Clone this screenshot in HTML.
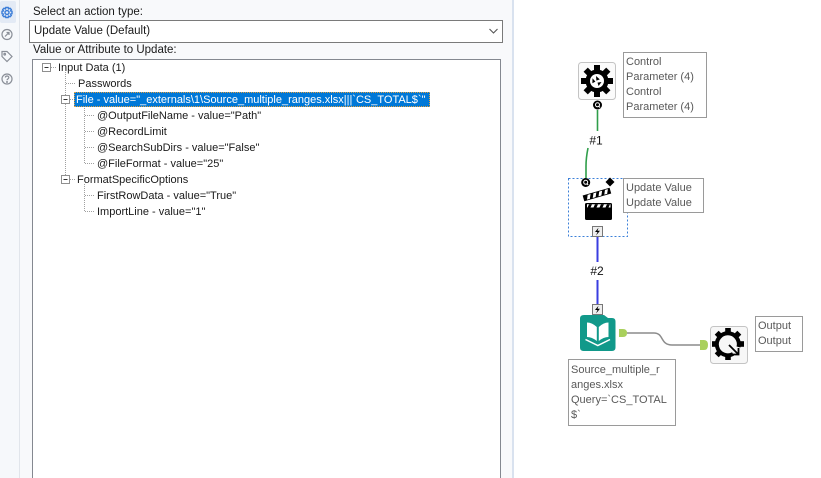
<!DOCTYPE html>
<html>
<head>
<meta charset="utf-8">
<style>
  html,body{margin:0;padding:0;width:821px;height:478px;overflow:hidden;}
  body{position:relative;background:#ffffff;font-family:"Liberation Sans",Arial,sans-serif;}
  .abs{position:absolute;}
  .strip{left:0;top:0;width:19px;height:478px;background:#f6f8fb;border-right:1px solid #e1e5eb;}
  .panel{left:20px;top:0;width:492px;height:478px;background:#f8f9fb;}
  .edge{left:512px;top:0;width:2px;height:478px;background:#d9e2ef;}
  .t{position:absolute;white-space:nowrap;font-size:11px;color:#1a1a1a;line-height:16px;}
  .dd{left:29px;top:20px;width:472px;height:21px;border:1px solid #7a7a7a;background:#fff;}
  .tree{left:32px;top:59px;width:467px;height:425px;border:1px solid #848890;border-bottom:none;background:#fff;}
  .lbl{position:absolute;background:#fff;border:1px solid #9a9a9a;font-size:11px;line-height:15px;color:#595959;padding:2px 2px 0 2px;box-sizing:border-box;white-space:nowrap;}
</style>
</head>
<body>
<div class="abs strip"></div>
<div class="abs panel"></div>
<div class="abs edge"></div>

<!-- left strip icons -->
<svg class="abs" style="left:0;top:0" width="19" height="100" viewBox="0 0 19 100">
  <rect x="0" y="1" width="16" height="22" rx="2" fill="#e3eaf5"/>
  <g transform="translate(7,12.5)" fill="none" stroke="#3b7dd8" stroke-width="1.4">
    <circle r="2"/>
    <path d="M-1.2,-5 L1.2,-5 L1.6,-3.6 L3,-4.3 L4.3,-3 L3.6,-1.6 L5,-1.2 L5,1.2 L3.6,1.6 L4.3,3 L3,4.3 L1.6,3.6 L1.2,5 L-1.2,5 L-1.6,3.6 L-3,4.3 L-4.3,3 L-3.6,1.6 L-5,1.2 L-5,-1.2 L-3.6,-1.6 L-4.3,-3 L-3,-4.3 L-1.6,-3.6 Z"/>
  </g>
  <g transform="translate(7,34.5)" fill="none" stroke="#8a8f98" stroke-width="1.2">
    <circle r="5"/>
    <path d="M-2,2 L2,-2 M-0.5,-2 L2,-2 L2,0.5"/>
  </g>
  <g transform="translate(7,56.5)" fill="none" stroke="#8a8f98" stroke-width="1.2">
    <path d="M-5,-5 L0,-5 L5,0 L0,5 L-5,0 Z"/>
    <circle cx="-2.3" cy="-2.3" r="0.8"/>
  </g>
  <g transform="translate(7,79)" fill="none" stroke="#8a8f98" stroke-width="1.2">
    <circle r="5"/>
    <path d="M-1.6,-1.5 C-1.6,-3.5 1.8,-3.5 1.8,-1.5 C1.8,0 0,0 0,1.3"/>
    <circle cx="0" cy="3" r="0.4" fill="#8a8f98"/>
  </g>
</svg>

<div class="t" style="left:33px;top:4px;font-size:11.5px;">Select an action type:</div>
<div class="abs dd"></div>
<div class="t" style="left:34px;top:23px;font-size:11.5px;">Update Value (Default)</div>
<svg class="abs" style="left:488px;top:27px" width="12" height="8"><path d="M1.5,2 L5.5,6 L9.5,2" fill="none" stroke="#555" stroke-width="1.1"/></svg>
<div class="t" style="left:33px;top:42px;font-size:11.5px;">Value or Attribute to Update:</div>

<div class="abs tree"></div>

<!-- tree lines -->
<svg class="abs" style="left:0;top:0" width="500" height="230">
  <g stroke="#a0a0a0" stroke-width="1" stroke-dasharray="1,1" fill="none">
    <path d="M51,67.5 L57,67.5"/>
    <path d="M65.5,72 L65.5,175"/>
    <path d="M66,83.5 L76,83.5"/>
    <path d="M70,99.5 L74,99.5"/>
    <path d="M70,179.5 L76,179.5"/>
    <path d="M84.5,104 L84.5,163.5"/>
    <path d="M85,115.5 L95,115.5 M85,131.5 L95,131.5 M85,147.5 L95,147.5 M85,163.5 L95,163.5"/>
    <path d="M84.5,184 L84.5,211.5"/>
    <path d="M85,195.5 L95,195.5 M85,211.5 L95,211.5"/>
  </g>
  <g fill="#fff" stroke="#8f8f8f">
    <rect x="42.5" y="63.5" width="8" height="8"/>
    <rect x="61.5" y="95.5" width="8" height="8"/>
    <rect x="61.5" y="175.5" width="8" height="8"/>
  </g>
  <g stroke="#333" stroke-width="1">
    <path d="M44.5,67.5 L48.5,67.5 M63.5,99.5 L67.5,99.5 M63.5,179.5 L67.5,179.5"/>
  </g>
</svg>

<div class="t" style="left:58px;top:59.5px;">Input Data (1)</div>
<div class="t" style="left:78px;top:75.5px;">Passwords</div>
<div class="abs" style="left:74px;top:92px;width:356px;height:15px;background:#0078d7;outline:1px dotted #e0a040;outline-offset:-1px;"></div>
<div class="t" style="left:76px;top:91.5px;color:#fff;">File - value="_externals\1\Source_multiple_ranges.xlsx|||`CS_TOTAL$`"</div>
<div class="t" style="left:97px;top:107.5px;">@OutputFileName - value="Path"</div>
<div class="t" style="left:97px;top:123.5px;">@RecordLimit</div>
<div class="t" style="left:97px;top:139.5px;">@SearchSubDirs - value="False"</div>
<div class="t" style="left:97px;top:155.5px;">@FileFormat - value="25"</div>
<div class="t" style="left:77px;top:171.5px;">FormatSpecificOptions</div>
<div class="t" style="left:97px;top:187.5px;">FirstRowData - value="True"</div>
<div class="t" style="left:97px;top:203.5px;">ImportLine - value="1"</div>

<!-- canvas -->
<svg class="abs" style="left:0;top:0" width="821" height="478" viewBox="0 0 821 478">
  <path d="M597.5,110 L597.5,131" stroke="#2f9e4a" stroke-width="1.6" fill="none"/>
  <path d="M588,148 Q586,158 586,166 L586,178" stroke="#2f9e4a" stroke-width="1.6" fill="none"/>
  <text x="596" y="144.5" font-family="Liberation Sans, Arial, sans-serif" font-size="12" text-anchor="middle" fill="#111">#1</text>

  <path d="M597.5,237 L597.5,262" stroke="#3a3ee0" stroke-width="2" fill="none"/>
  <path d="M597.5,280 L597.5,304" stroke="#3a3ee0" stroke-width="2" fill="none"/>
  <text x="597" y="275" font-family="Liberation Sans, Arial, sans-serif" font-size="12" text-anchor="middle" fill="#111">#2</text>

  <path d="M627,333 L654,333 C664,333 660,345 672,345 L700,345" stroke="#8c8c8c" stroke-width="1.5" fill="none"/>

  <!-- control parameter tool -->
  <rect x="578.5" y="62.5" width="37" height="37" rx="3" fill="#fbfbfb" stroke="#c4c4c4"/>
  <g transform="translate(597,81)">
    <g fill="#000">
      <circle r="11.5"/>
      <rect x="-3" y="-16" width="6" height="7"/>
      <rect x="-3" y="-16" width="6" height="7" transform="rotate(45)"/>
      <rect x="-3" y="-16" width="6" height="7" transform="rotate(90)"/>
      <rect x="-3" y="-16" width="6" height="7" transform="rotate(135)"/>
      <rect x="-3" y="-16" width="6" height="7" transform="rotate(180)"/>
      <rect x="-3" y="-16" width="6" height="7" transform="rotate(225)"/>
      <rect x="-3" y="-16" width="6" height="7" transform="rotate(270)"/>
      <rect x="-3" y="-16" width="6" height="7" transform="rotate(315)"/>
    </g>
    <circle r="7" fill="#fff"/>
    <path d="M-1,-5 L2.8,-1.6 L-0.6,-0.4 Z M4.5,1 L1.6,5 L0.5,1.6 Z M-4.6,2.2 L-4.5,-2.8 L-1.6,0.6 Z" fill="#000"/>
  </g>
  <circle cx="597.5" cy="105" r="4.5" fill="#000"/>
  <circle cx="597.5" cy="104.8" r="2" fill="none" stroke="#fff" stroke-width="1"/>
  <path d="M598.5,106 L600,107.5" stroke="#fff" stroke-width="1"/>

  <!-- update value tool -->
  <rect x="568.5" y="178.5" width="59" height="58" fill="none" stroke="#3c80d8" stroke-dasharray="2,2"/>
  <circle cx="585.7" cy="182.5" r="4.5" fill="#000"/>
  <circle cx="585.7" cy="182.3" r="2" fill="none" stroke="#fff" stroke-width="1"/>
  <path d="M586.7,183.5 L588.2,185" stroke="#fff" stroke-width="1"/>
  <path d="M610,177.5 L614.5,182 L610,186.5 L605.5,182 Z" fill="#000"/>
  <g transform="rotate(-16 585 200)">
    <rect x="584" y="195" width="28" height="6" fill="#000"/>
    <path d="M589,195.8 L592,195.8 L590,200.2 L587,200.2 Z M595,195.8 L598,195.8 L596,200.2 L593,200.2 Z M601,195.8 L604,195.8 L602,200.2 L599,200.2 Z M607,195.8 L610,195.8 L608,200.2 L605,200.2 Z" fill="#fff"/>
  </g>
  <rect x="585" y="203" width="27" height="17" rx="1.5" fill="#000"/>
  <path d="M587,204.3 L610.5,204.3 L610.5,207.5 L587,207.5 Z" fill="#fff"/>
  <path d="M589,204.3 L592,204.3 L590.5,207.5 L587.5,207.5 Z M595,204.3 L598,204.3 L596.5,207.5 L593.5,207.5 Z M601,204.3 L604,204.3 L602.5,207.5 L599.5,207.5 Z M607,204.3 L610,204.3 L608.5,207.5 L605.5,207.5 Z" fill="#000"/>
  <rect x="592.5" y="226.5" width="10" height="10" fill="#eee" stroke="#777"/>
  <path d="M598.5,227.8 L595,232 L597.5,232 L596,235.5 L600,230.8 L597.5,230.8 Z" fill="#000"/>

  <!-- input tool -->
  <rect x="592.5" y="304.5" width="10" height="10" fill="#eee" stroke="#777"/>
  <path d="M598.5,305.8 L595,310 L597.5,310 L596,313.5 L600,308.8 L597.5,308.8 Z" fill="#000"/>
  <path d="M584,315 L604,315 L608,318 L612,318 Q615.5,318 615.5,321.5 L615.5,347.5 Q615.5,351 612,351 L583.5,351 Q580,351 580,347.5 L580,318.5 Q580,315 584,315 Z" fill="#11998a"/>
  <path d="M587,322.5 Q592,322.5 596.8,327 L596.8,341 Q592,337 587,337 Z" fill="#fff"/>
  <path d="M608.5,322.5 Q603.5,322.5 598.8,327 L598.8,341 Q603.5,337 608.5,337 Z" fill="#fff"/>
  <path d="M585.5,339.5 L597.8,345.5 L610,339.5" fill="none" stroke="#fff" stroke-width="1.5"/>
  <path d="M619,329 L623,329 Q627,329 627,333 Q627,337 623,337 L619,337 Z" fill="#a9d05c"/>

  <!-- output tool -->
  <path d="M700,340 L704,340 Q708,340 708,345 Q708,350 704,350 L700,350 Z" fill="#a9d05c"/>
  <rect x="710.5" y="326.5" width="37" height="37" rx="3" fill="#f7f7f7" stroke="#c4c4c4"/>
  <g transform="translate(728,344)">
    <path d="M5,10 A11,11 0 1 1 10.5,3" fill="none" stroke="#000" stroke-width="4"/>
    <g fill="#000">
      <rect x="-2.8" y="-16" width="5.6" height="6"/>
      <rect x="-2.8" y="-16" width="5.6" height="6" transform="rotate(45)"/>
      <rect x="-2.8" y="-16" width="5.6" height="6" transform="rotate(90)"/>
      <rect x="-2.8" y="-16" width="5.6" height="6" transform="rotate(180)"/>
      <rect x="-2.8" y="-16" width="5.6" height="6" transform="rotate(225)"/>
      <rect x="-2.8" y="-16" width="5.6" height="6" transform="rotate(270)"/>
      <rect x="-2.8" y="-16" width="5.6" height="6" transform="rotate(315)"/>
    </g>
    <path d="M1,1 L10,10" stroke="#000" stroke-width="1.8"/>
    <path d="M10.5,4 L10.5,10.5 L4,10.5" fill="none" stroke="#000" stroke-width="1.8"/>
  </g>
</svg>

<div class="lbl" style="left:623px;top:52px;width:84px;height:66px;">Control<br>Parameter (4)<br>Control<br>Parameter (4)</div>
<div class="lbl" style="left:623px;top:178px;width:81px;height:35px;">Update Value<br>Update Value</div>
<div class="lbl" style="left:755px;top:316px;width:48px;height:36px;">Output<br>Output</div>
<div class="lbl" style="left:568px;top:359px;width:108px;height:67px;padding-top:3px;">Source_multiple_r<br>anges.xlsx<br>Query=`CS_TOTAL<br>$`</div>

</body>
</html>
